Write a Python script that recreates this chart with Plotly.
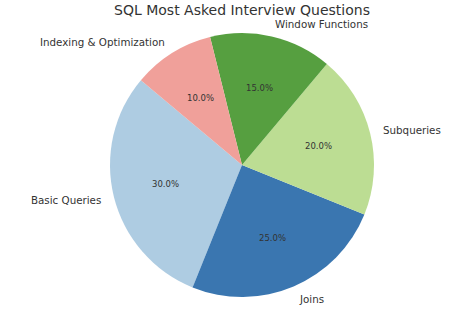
import math
import plotly.graph_objects as go

labels = ["Basic Queries", "Joins", "Subqueries", "Window Functions", "Indexing & Optimization"]
values = [30, 25, 20, 15, 10]
colors = ["#aecce2", "#3a76b0", "#bcdd93", "#569f40", "#f0a09a"]
title = "SQL Most Asked Interview Questions"

W, H = 474, 314
cx, cy, r = 242, 165, 132  # pixel center / radius (top-left origin)
start_angle = 140  # degrees, counterclockwise (math convention)

total = sum(values)
# plotly (counterclockwise): first slice's clockwise edge sits at `rotation` from 12 o'clock
rotation = 90 - start_angle - 360 * values[0] / total

fig = go.Figure(go.Pie(
    labels=labels, values=values, sort=False, direction="counterclockwise",
    rotation=rotation, marker=dict(colors=colors, line=dict(width=0)),
    textinfo="none", hoverinfo="label+percent", showlegend=False,
    domain=dict(x=[(cx - r) / W, (cx + r) / W], y=[1 - (cy + r) / H, 1 - (cy - r) / H]),
))

annotations = []
acc = 0
for lab, v in zip(labels, values):
    theta = math.radians(start_angle + 360 * (acc + v / 2) / total)
    acc += v
    c, s = math.cos(theta), math.sin(theta)
    lx, ly = cx + 1.1 * r * c, cy - 1.1 * r * s
    annotations.append(dict(
        x=lx / W, y=1 - ly / H, xref="paper", yref="paper", text=lab, showarrow=False,
        xanchor="left" if c > 0 else "right", yanchor="middle", borderpad=0, borderwidth=0,
        font=dict(family="DejaVu Sans", size=10.3, color="#333333"),
    ))
    px, py = cx + 0.6 * r * c, cy - 0.6 * r * s
    annotations.append(dict(
        x=px / W, y=1 - py / H, xref="paper", yref="paper",
        text=f"{100 * v / total:.1f}%", showarrow=False,
        xanchor="center", yanchor="middle", borderpad=0, borderwidth=0,
        font=dict(family="DejaVu Sans", size=8.5, color="#333333"),
    ))

fig.update_layout(
    width=W, height=H, margin=dict(l=0, r=0, t=0, b=0),
    paper_bgcolor="white", plot_bgcolor="white",
    title=dict(text=title, x=242 / W, y=1 - 10.5 / H, xanchor="center", yanchor="middle",
               font=dict(family="DejaVu Sans", size=14, color="#333333")),
    annotations=annotations,
)

fig.write_html("out.html")
